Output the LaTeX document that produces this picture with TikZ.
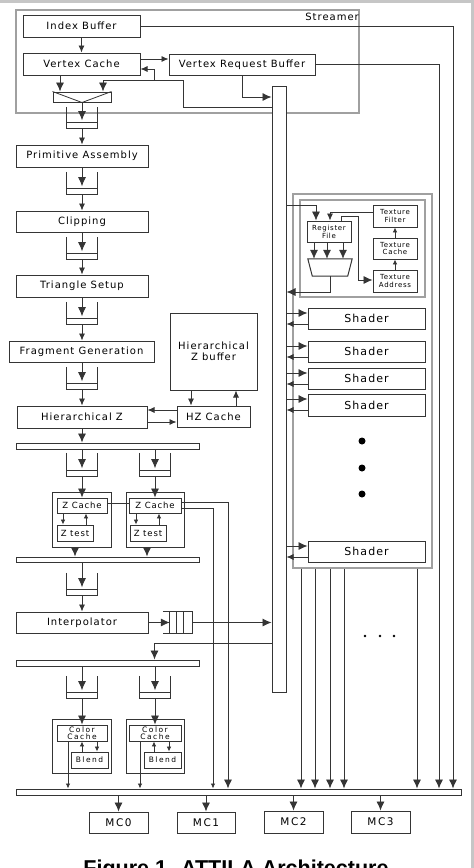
\documentclass[tikz,border=0pt]{standalone}
\usepackage{fontspec}
\setmainfont{DejaVu Sans}[LetterSpace=10]
\newfontfamily\capfont{Liberation Sans}
\usetikzlibrary{arrows.meta,calc}
\definecolor{ln}{HTML}{353535}
\definecolor{gl}{HTML}{A0A0A0}
\newcommand\drawqueue[1]{%
  \draw[qline] (#1.north west) -- (#1.south west) -- (#1.south east) -- (#1.north east);
  \draw[qline] ($(#1.south west)+(0,-6)$) -- ($(#1.south east)+(0,-6)$);}
\begin{document}
\begin{tikzpicture}[x=1pt,y=-1pt,
  box/.style={draw=ln, line width=1pt, fill=white, inner sep=0pt, align=center, font=\fontsize{10}{11}\selectfont},
  small/.style={box, line width=0.9pt, font=\fontsize{7}{7.8}\selectfont},
  zbox/.style={box, line width=0.9pt, font=\fontsize{8.5}{9}\selectfont},
  cbox/.style={box, line width=0.9pt, font=\fontsize{7.5}{7.3}\selectfont\addfontfeatures{LetterSpace=20}},
  shbox/.style={box, font=\fontsize{11}{12}\selectfont},
  mcbox/.style={box, font=\fontsize{10.5}{11}\selectfont\addfontfeatures{LetterSpace=15}},
  cont/.style={draw=gl, line width=1.1pt, inner sep=0pt},
  dcont/.style={draw=ln, line width=0.9pt, inner sep=0pt},
  bar/.style={draw=ln, line width=1pt, fill=white, inner sep=0pt},
  qn/.style={draw=none, inner sep=0pt, minimum width=30},
  qline/.style={draw=ln, line width=0.9pt},
  wire/.style={draw=ln, line width=0.8pt},
  big/.style={wire, -{Latex[length=9pt,width=8pt]}},
  arr/.style={wire, -{Latex[length=7pt,width=6pt]}},
  sm/.style={wire, -{Latex[length=5pt,width=4.5pt]}},
  dot/.style={circle, fill=black, inner sep=0pt, minimum size=7pt},
  sdot/.style={circle, fill=black, inner sep=0pt, minimum size=2.6pt}]
\useasboundingbox (0,0) rectangle (474,868);
\clip (0,0) rectangle (474,868);
\fill[white] (0,0) rectangle (474,868);
\fill[gray!45] (0,0) rectangle (474,2.5);
\fill[gray!45] (471,0) rectangle (474,868);

% containers
\node[cont, minimum width=343, minimum height=103] (streamer) at (187.5,61.5) {};
\node[anchor=base east, inner sep=0pt, font=\fontsize{10}{11}\selectfont] (stlabel) at (359,20) {Streamer};
\node[cont, minimum width=139, minimum height=374] (shcont) at (362.5,381) {};
\node[cont, minimum width=125, minimum height=97] (texbox) at (362.5,248.5) {};
\node[dcont, minimum width=59, minimum height=55] (zcont1) at (81.5,519.5) {};
\node[dcont, minimum width=58, minimum height=55] (zcont2) at (155,519.5) {};
\node[dcont, minimum width=59, minimum height=54] (ccont1) at (81.5,746) {};
\node[dcont, minimum width=58, minimum height=54] (ccont2) at (155,746) {};

% streamer boxes
\node[box, minimum width=117, minimum height=22] (ib) at (81.5,26) {Index Buffer};
\node[box, minimum width=117, minimum height=22] (vc) at (81.5,64) {Vertex Cache};
\node[box, minimum width=146, minimum height=21] (vrb) at (242,64.5) {Vertex Request Buffer};
\node[box, minimum width=58, minimum height=10] (merge) at (82,97) {};
\draw[wire] (merge.north west) -- (merge.south) -- (merge.north east);

% queues
\node[qn, minimum height=21] (q1) at (82,117.5) {};
\node[qn, minimum height=22] (q2) at (82,183) {};
\node[qn, minimum height=22] (q3) at (82,248) {};
\node[qn, minimum height=22] (q4) at (82,313) {};
\node[qn, minimum height=22] (q5) at (82,378) {};
\node[qn, minimum height=23] (qz1) at (82,464.5) {};
\node[qn, minimum height=23] (qz2) at (155,464.5) {};
\node[qn, minimum height=22] (qi) at (82,584) {};
\node[qn, minimum height=22] (qc1) at (82,687) {};
\node[qn, minimum height=22] (qc2) at (155,687) {};
\foreach \q in {q1,q2,q3,q4,q5,qz1,qz2,qi,qc1,qc2} {\drawqueue{\q}}

% pipeline boxes
\node[box, minimum width=132, minimum height=22] (pa) at (82,156) {Primitive Assembly};
\node[box, minimum width=132, minimum height=21] (clp) at (82,221.5) {Clipping};
\node[box, minimum width=132, minimum height=22] (ts) at (82,286) {Triangle Setup};
\node[box, minimum width=145, minimum height=21] (fg) at (81.5,351.5) {Fragment Generation};
\node[box, minimum width=130, minimum height=22] (hz) at (82,417) {Hierarchical Z};
\node[box, minimum width=73, minimum height=21] (hzc) at (213.5,416.5) {HZ Cache};
\node[box, minimum width=87, minimum height=77] (hzb) at (213.5,351.5) {Hierarchical\\Z buffer};
\node[bar, minimum width=183, minimum height=6] (bus1) at (107.5,446) {};
\node[zbox, minimum width=50, minimum height=15] (zcache1) at (82,505.5) {Z Cache};
\node[zbox, minimum width=52, minimum height=15] (zcache2) at (155,505.5) {Z Cache};
\node[zbox, minimum width=36, minimum height=16] (ztest1) at (75,533) {Z test};
\node[zbox, minimum width=36, minimum height=16] (ztest2) at (148,533) {Z test};
\node[bar, minimum width=183, minimum height=5] (bus2) at (107.5,559.5) {};
\node[box, minimum width=132, minimum height=21] (interp) at (82,622.5) {Interpolator};
\node[qn, minimum width=29, minimum height=22] (hq) at (177.5,622.5) {};
\draw[qline] (hq.north west) -- (hq.north east) -- (hq.south east) -- (hq.south west);
\foreach \d in {7,14,21} \draw[qline] ($(hq.north west)+(\d,0)$) -- ($(hq.south west)+(\d,0)$);
\node[bar, minimum width=183, minimum height=6] (bus3) at (107.5,663) {};
\node[cbox, minimum width=50, minimum height=16] (colc1) at (82,733) {Color\\Cache};
\node[cbox, minimum width=52, minimum height=16] (colc2) at (155,733) {Color\\Cache};
\node[cbox, minimum width=37, minimum height=16] (blend1) at (89.5,760) {Blend};
\node[cbox, minimum width=37, minimum height=16] (blend2) at (162.5,760) {Blend};
\node[bar, minimum width=445, minimum height=6] (bbus) at (238.5,792) {};
\node[mcbox, minimum width=59, minimum height=21] (mc0) at (118.5,822.5) {MC0};
\node[mcbox, minimum width=58, minimum height=21] (mc1) at (206,822.5) {MC1};
\node[mcbox, minimum width=59, minimum height=22] (mc2) at (293.5,822) {MC2};
\node[mcbox, minimum width=59, minimum height=22] (mc3) at (380.5,822) {MC3};
\node[bar, minimum width=14, minimum height=606] (vbus) at (279,389) {};

% shader unit
\node[small, minimum width=44, minimum height=21] (rf) at (329,231.5) {Register\\File};
\node[small, minimum width=44, minimum height=22] (tf) at (395,216) {Texture\\Filter};
\node[small, minimum width=44, minimum height=21] (tc) at (395,248.5) {Texture\\Cache};
\node[small, minimum width=44, minimum height=22] (ta) at (395,281) {Texture\\Address};
\node[draw=none, inner sep=0pt, minimum width=44, minimum height=17] (mux) at (330,267.5) {};
\draw[draw=ln, line width=1pt] (mux.north west) -- (mux.north east) -- ($(mux.south east)+(-4.5,0)$) -- ($(mux.south west)+(4.5,0)$) -- cycle;
\node[shbox, minimum width=117, minimum height=21] (s1) at (366.5,318.5) {Shader};
\node[shbox, minimum width=117, minimum height=21] (s2) at (366.5,351.5) {Shader};
\node[shbox, minimum width=117, minimum height=21] (s3) at (366.5,378.5) {Shader};
\node[shbox, minimum width=117, minimum height=22] (s4) at (366.5,405) {Shader};
\node[shbox, minimum width=117, minimum height=21] (s5) at (366.5,551.5) {Shader};
\node[dot] (d1) at (362,441) {};
\node[dot] (d2) at (362,468) {};
\node[dot] (d3) at (362,494) {};
\node[sdot] (e1) at (365,636) {};
\node[sdot] (e2) at (380,636) {};
\node[sdot] (e3) at (394,636) {};

% streamer connectors
\draw[arr] (ib) -- (vc);
\draw[arr] (vc.east |- 0,59) -- (vrb.west |- 0,59);
\draw[big] (vc.south -| 60,0) -- (merge.north -| 60,0);
\draw[big] (vbus.west |- 0,107) -- (183,107) -- (183,80) -- (103,80) -- (merge.north -| 103,0);
\draw[arr] (154,80) -- (154,69) -- (vc.east |- 0,69);
\draw[big] (vrb.south) -- (242,97) -- (vbus.west |- 0,97);
\draw[big] (ib.east) -- (453,26) -- (bbus.north -| 453,0);
\draw[big] (vrb.east) -- (439,64.5) -- (bbus.north -| 439,0);
\draw[big] (merge.south) -- ($(q1.south)+(0,-8)$);

% pipeline connectors
\draw[arr] (q1) -- (pa);
\draw[big] (pa.south) -- ($(q2.south)+(0,-8)$);
\draw[arr] (q2) -- (clp);
\draw[big] (clp.south) -- ($(q3.south)+(0,-8)$);
\draw[arr] (q3) -- (ts);
\draw[big] (ts.south) -- ($(q4.south)+(0,-8)$);
\draw[arr] (q4.south) -- (fg.north -| q4.south);
\draw[big] (fg.south -| q5.north) -- ($(q5.south)+(0,-8)$);
\draw[arr] (q5) -- (hz);
\draw[big] (hz.south) -- (bus1.north -| hz.south);
\draw[arr] (hzc.west |- 0,410) -- (hz.east |- 0,410);
\draw[arr] (hz.east |- 0,422) -- (hzc.west |- 0,422);
\draw[arr] (hzb.south -| 191,0) -- (hzc.north -| 191,0);
\draw[arr] (hzc.north -| 236,0) -- (hzb.south -| 236,0);
\draw[big] (bus1.south -| qz1.north) -- ($(qz1.south)+(0,-8)$);
\draw[big] (bus1.south -| qz2.north) -- ($(qz2.south)+(0,-8)$);
\draw[big] (qz1) -- (zcache1);
\draw[big] (qz2) -- (zcache2);
\draw[sm] (zcache1.south -| 63,0) -- (ztest1.north -| 63,0);
\draw[sm] (ztest1.north -| 86,0) -- (zcache1.south -| 86,0);
\draw[sm] (zcache2.south -| 136,0) -- (ztest2.north -| 136,0);
\draw[sm] (ztest2.north -| 159,0) -- (zcache2.south -| 159,0);
\draw[wire] (zcache1.east |- 0,503) -- (zcache2.west |- 0,503);
\draw[big] (zcont1.south -| 75,0) -- (bus2.north -| 75,0);
\draw[big] (zcont2.south -| 147,0) -- (bus2.north -| 147,0);
\draw[big] (zcache2.east |- 0,502) -- (228,502) -- (bbus.north -| 228,0);
\draw[sm] (zcache2.east |- 0,508) -- (213,508) -- (bbus.north -| 213,0);
\draw[big] (bus2.south -| qi.north) -- ($(qi.south)+(0,-8)$);
\draw[arr] (qi) -- (interp);
\draw[big] (interp.east) -- ($(hq.west)+(7,0)$);
\draw[big] (hq.east) -- (vbus.west |- hq.east);
\draw[big] (vbus.west |- 0,643) -- (154.5,643) -- (bus3.north -| 154.5,0);
\draw[big] (bus3.south -| qc1.north) -- ($(qc1.south)+(0,-8)$);
\draw[big] (bus3.south -| qc2.north) -- ($(qc2.south)+(0,-8)$);
\draw[big] (qc1) -- (colc1);
\draw[big] (qc2) -- (colc2);
\draw[sm] (blend1.north -| 82,0) -- (colc1.south -| 82,0);
\draw[sm] (colc1.south -| 97,0) -- (blend1.north -| 97,0);
\draw[sm] (blend2.north -| 154,0) -- (colc2.south -| 154,0);
\draw[sm] (colc2.south -| 169,0) -- (blend2.north -| 169,0);
\draw[sm] (colc1.south -| 68,0) -- (bbus.north -| 68,0);
\draw[sm] (colc2.south -| 140,0) -- (bbus.north -| 140,0);
\foreach \m in {mc0,mc1,mc2,mc3} \draw[big] (bbus.south -| \m.north) -- (\m.north);

% shader connectors
\foreach \x in {301,315,330,344,417} \draw[big] (shcont.south -| \x,0) -- (bbus.north -| \x,0);
\draw[big] (vbus.east |- 0,205) -- (316,205) -- (rf.north -| 316,0);
\draw[arr] (tf.west |- 0,212) -- (330,212) -- (rf.north -| 330,0);
\draw[big] (rf.north -| 341,0) -- (341,216) -- (358,216) -- (358,280) -- (ta.west |- 0,280);
\foreach \x in {314,327,343} \draw[big] (rf.south -| \x,0) -- (mux.north -| \x,0);
\draw[big] (mux.south) -- (330,292) -- (vbus.east |- 0,292);
\draw[sm] (ta.north) -- (tc.south);
\draw[sm] (tc.north) -- (tf.south);
\foreach \s/\t in {s1/308,s2/341,s3/368,s4/394,s5/541} {
  \draw[big] (vbus.east |- 0,\t+5) -- (\s.west |- 0,\t+5);
  \draw[arr] (\s.west |- 0,\t+16) -- (vbus.east |- 0,\t+16);
}

% caption
\node[anchor=base, inner sep=0pt, font=\capfont\bfseries\fontsize{21.5}{24}\selectfont] (cap) at (236,875) {Figure 1. ATTILA Architecture};
\end{tikzpicture}
\end{document}
